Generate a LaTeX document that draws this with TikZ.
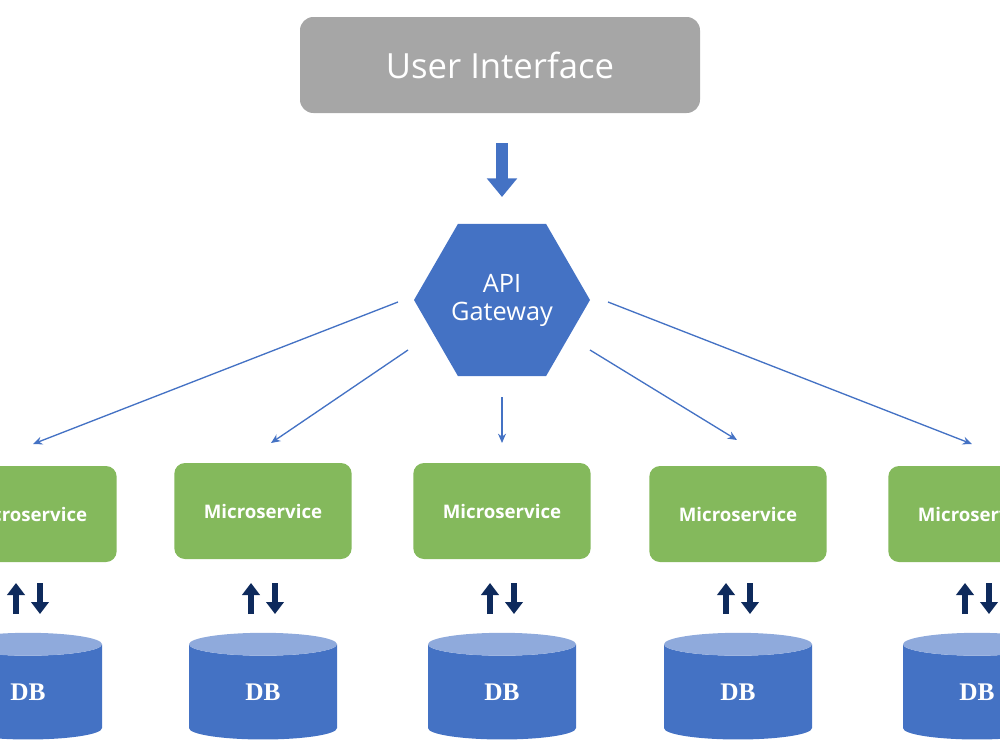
\documentclass[tikz,border=0pt]{standalone}
\usepackage{fontspec}
\setmainfont{Liberation Serif}
\setsansfont{Open Sans}
\usetikzlibrary{shapes.geometric,arrows.meta}
\definecolor{uigray}{HTML}{A6A6A6}
\definecolor{msgreen}{HTML}{84B95C}
\definecolor{dbblue}{HTML}{4472C4}
\definecolor{dbtop}{HTML}{8FAADC}
\definecolor{navy}{HTML}{0E2A5C}
\tikzset{
  ms/.style={rectangle,rounded corners=8pt,fill=msgreen,minimum width=133pt,minimum height=72pt,
    text=white,font=\sffamily\bfseries\fontsize{14}{16}\selectfont},
  db/.style={cylinder,shape border rotate=90,aspect=0.65,cylinder uses custom fill,
    cylinder body fill=dbblue,cylinder end fill=dbtop,minimum width=111pt,minimum height=80pt,
    inner sep=0pt,text=white,font=\rmfamily\bfseries\fontsize{19}{22}\selectfont},
  link/.style={draw=dbblue,line width=1pt,-{Stealth[length=7pt,width=6pt]}},
  updown/.style={navy,line width=4.5pt,-{Triangle[length=9pt,width=13pt]}}
}
\begin{document}
\begin{tikzpicture}[x=0.75pt,y=-0.75pt]
\useasboundingbox (0,0) rectangle (1000,750);
% top
\node (ui) [rectangle,rounded corners=10pt,fill=uigray,minimum width=300pt,minimum height=72pt,
  text=white,font=\sffamily\fontsize{26}{30}\selectfont] at (500,65) {User Interface};
\node (gw) [regular polygon,regular polygon sides=6,minimum size=132pt,inner sep=0pt,fill=dbblue,
  text=white,align=center,font=\sffamily\fontsize{19}{21}\selectfont] at (502,300) {API\\Gateway};
\coordinate (uiout) at (502,143);
\coordinate (gwin) at (502,197);
\draw [dbblue,line width=9pt,-{Triangle[length=14pt,width=22pt]}] (uiout) -- (gwin);

% services and databases
\foreach \i/\x/\y in {1/28/514,2/263/511,3/502/511,4/738/514,5/977/514} {
  \node (ms\i) [ms] at (\x,\y) {Microservice};
  \node (db\i) [db] at (\x,692) {DB};
  \coordinate (up\i a) at (\x-12,614);
  \coordinate (up\i b) at (\x-12,583);
  \coordinate (dn\i a) at (\x+12,583);
  \coordinate (dn\i b) at (\x+12,614);
  \draw [updown] (up\i a) -- (up\i b);
  \draw [updown] (dn\i a) -- (dn\i b);
}

% gateway links
\coordinate (g1) at (398,302);
\coordinate (g2) at (408,350);
\coordinate (g3) at (502,397);
\coordinate (g4) at (590,350);
\coordinate (g5) at (608,302);
\coordinate (t1) at (33,444);
\coordinate (t2) at (271,443);
\coordinate (t3) at (502,443);
\coordinate (t4) at (737,440);
\coordinate (t5) at (972,444);
\foreach \i in {1,...,5} \draw [link] (g\i) -- (t\i);
\end{tikzpicture}
\end{document}
